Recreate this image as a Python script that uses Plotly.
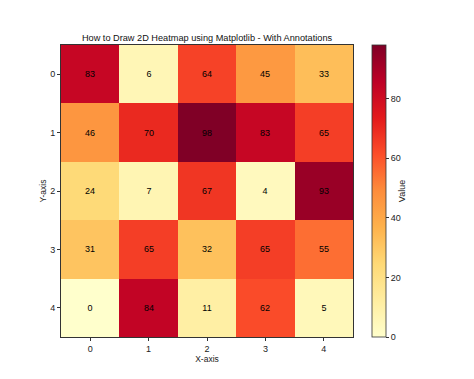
import plotly.graph_objects as go

x_labels = [0, 1, 2, 3, 4]
y_labels = [0, 1, 2, 3, 4]
values = [
    [83, 6, 64, 45, 33],
    [46, 70, 98, 83, 65],
    [24, 7, 67, 4, 93],
    [31, 65, 32, 65, 55],
    [0, 84, 11, 62, 5],
]
cbar_ticks = [0, 20, 40, 60, 80]

FONT = "Liberation Sans"

# page body has an 8px default margin, so the figure is drawn 8px smaller
W, H = 466, 371
L, T, PW, PH = 53, 37, 292, 292

fig = go.Figure(
    go.Heatmap(
        z=values,
        x=x_labels,
        y=y_labels,
        colorscale="YlOrRd",
        zmin=0,
        zmax=max(max(r) for r in values),
        texttemplate="%{z}",
        textfont=dict(size=9, color="black", family=FONT),
        xgap=0,
        ygap=0,
        colorbar=dict(
            x=1.065,
            xanchor="left",
            xpad=0,
            ypad=0,
            y=0.5,
            yanchor="middle",
            lenmode="pixels",
            len=292,
            thickness=14,
            outlinewidth=0.8,
            outlinecolor="#333",
            ticks="outside",
            ticklen=3,
            tickwidth=0.8,
            tickcolor="#333",
            tickvals=cbar_ticks,
            tickfont=dict(size=9, family=FONT, color="#222"),
            title=dict(text="Value", side="right", font=dict(size=9, family=FONT, color="#222")),
        ),
    )
)

axis_common = dict(
    showgrid=False,
    zeroline=False,
    showline=True,
    linecolor="#333",
    linewidth=0.8,
    mirror=True,
    ticks="outside",
    ticklen=3,
    tickwidth=0.8,
    tickcolor="#333",
    tickfont=dict(size=9, family=FONT, color="#222"),
    tickmode="array",
    tickvals=[0, 1, 2, 3, 4],
    automargin=False,
)

fig.update_layout(
    width=W,
    height=H,
    margin=dict(l=L, r=W - L - PW, t=T, b=H - T - PH, autoexpand=False),
    paper_bgcolor="white",
    plot_bgcolor="white",
    title=dict(
        text="How to Draw 2D Heatmap using Matplotlib - With Annotations",
        x=(L + PW / 2) / W,
        xanchor="center",
        y=1 - 30 / H,
        yanchor="middle",
        font=dict(size=9.2, family=FONT, color="#111"),
    ),
    xaxis=dict(axis_common, title=dict(text="X-axis", font=dict(size=8.5, family=FONT, color="#222"), standoff=2)),
    yaxis=dict(axis_common, autorange="reversed",
               title=dict(text="Y-axis", font=dict(size=8.5, family=FONT, color="#222"), standoff=2)),
)

fig.write_html("out.html")
